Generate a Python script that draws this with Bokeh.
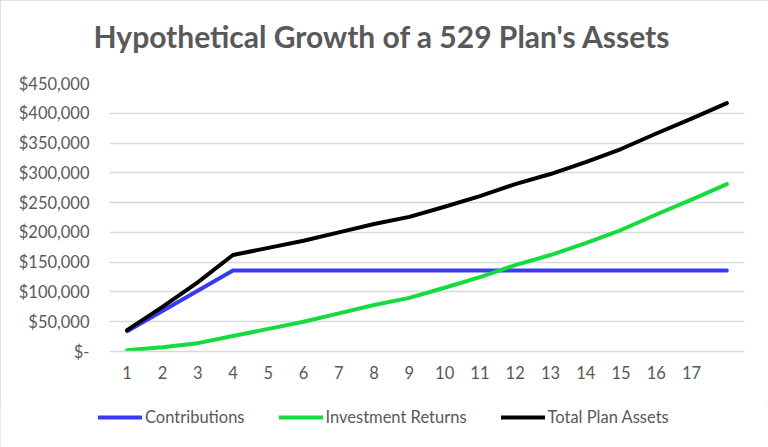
from bokeh.plotting import figure
from bokeh.models import Range1d, FixedTicker, Legend, LegendItem, Title
from bokeh.layouts import column
from bokeh.embed import file_html
from bokeh.resources import INLINE

# ---- data ----
years = list(range(1, 19))
x_tick_labels = [str(i) for i in range(1, 18)]
contributions = [34000, 68000, 102000, 136000, 136000, 136000, 136000, 136000, 136000,
                 136000, 136000, 136000, 136000, 136000, 136000, 136000, 136000, 136000]
investment_returns = [2000, 7000, 14000, 26000, 38000, 50000, 64000, 78000, 90000,
                      107000, 125000, 145000, 162000, 182000, 204000, 230000, 255000, 281000]
total_assets = [36000, 75000, 116000, 162000, 174000, 186000, 200000, 214000, 226000,
                243000, 261000, 281000, 298000, 318000, 340000, 366000, 391000, 417000]
y_ticks = [0, 50000, 100000, 150000, 200000, 250000, 300000, 350000, 400000, 450000]
y_tick_labels = ["$-", "$50,000", "$100,000", "$150,000", "$200,000", "$250,000",
                 "$300,000", "$350,000", "$400,000", "$450,000"]
title_text = "Hypothetical Growth of a 529 Plan's Assets"
series_names = ["Contributions", "Investment Returns", "Total Plan Assets"]
series_colors = ["#3a3af4", "#14dc3c", "#000000"]

FONT = "Lato"
GRAY = "#595959"

# ---------------- main chart ----------------
p = figure(width=768, height=405, frame_width=635, frame_height=268,
           min_border_left=109, min_border_right=24, min_border_top=83, min_border_bottom=54,
           output_backend="svg", toolbar_location=None,
           x_range=Range1d(0.5, 18.5), y_range=Range1d(0, 450000))
p.frame_align = False
p.outline_line_color = None
p.background_fill_color = "white"
p.border_fill_color = "white"
p.title.text = ""

# blank spacer panel right above the frame, then the visible title above it
spacer = Title(text=" ", text_font_size="1px", text_color="white", standoff=27)
p.add_layout(spacer, "above")
main_title = Title(text=title_text, align="left", offset=-16, standoff=0, vertical_align="bottom",
                   text_font=FONT, text_font_style="bold", text_font_size="30px", text_color=GRAY)
p.add_layout(main_title, "above")

# grid
p.xgrid.grid_line_color = None
p.ygrid.grid_line_color = "#d9d9d9"
p.ygrid.grid_line_width = 1.3

# y axis
p.yaxis.ticker = FixedTicker(ticks=y_ticks)
p.yaxis.major_label_overrides = dict(zip(y_ticks, y_tick_labels))
p.yaxis.axis_line_color = None
p.yaxis.major_tick_line_color = None
p.yaxis.major_tick_out = 0
p.yaxis.minor_tick_line_color = None
p.yaxis.major_label_standoff = 20
p.yaxis.major_label_text_font = FONT
p.yaxis.major_label_text_font_size = "16.5px"
p.yaxis.major_label_text_color = GRAY

# x axis
p.xaxis.ticker = FixedTicker(ticks=list(range(1, 18)))
p.xaxis.major_label_overrides = dict(zip(range(1, 18), x_tick_labels))
p.xaxis.axis_line_color = "#d9d9d9"
p.xaxis.axis_line_width = 1.3
p.xaxis.major_tick_line_color = None
p.xaxis.major_tick_out = 0
p.xaxis.minor_tick_line_color = None
p.xaxis.major_label_standoff = 14
p.xaxis.major_label_text_font = FONT
p.xaxis.major_label_text_font_size = "16.5px"
p.xaxis.major_label_text_color = GRAY

for ys, c in zip([contributions, investment_returns, total_assets], series_colors):
    p.line(years, ys, line_color=c, line_width=4, line_join="round", line_cap="round")

# ---------------- legend strip ----------------
lg = figure(width=768, height=42, min_border_left=0, min_border_right=0,
            min_border_top=0, min_border_bottom=0,
            output_backend="svg", toolbar_location=None,
            x_axis_location=None, y_axis_location=None,
            x_range=Range1d(0, 1), y_range=Range1d(0, 1))
lg.frame_align = False
lg.outline_line_color = None
lg.grid.grid_line_color = None
lg.background_fill_color = "white"
lg.border_fill_color = "white"

# legend-key renderers (no visible data; they only provide the legend line samples)
nan = float("nan")
legend_renderers = [lg.line([nan], [nan], line_color=c, line_width=4, line_cap="round")
                    for c in series_colors]
legend = Legend(items=[LegendItem(label=n, renderers=[r]) for n, r in zip(series_names, legend_renderers)],
                orientation="horizontal", location=(98, 20),
                glyph_width=44, glyph_height=20, label_height=20, label_standoff=3,
                spacing=34, padding=0, margin=0,
                label_text_font=FONT, label_text_font_size="16.5px", label_text_color=GRAY,
                background_fill_alpha=0, border_line_color=None)
lg.add_layout(legend, "center")

layout = column(p, lg, spacing=0)
layout.styles = {"outline": "2px solid #d9d9d9", "outline-offset": "-2px"}

open("out.html", "w").write(file_html(layout, INLINE))
